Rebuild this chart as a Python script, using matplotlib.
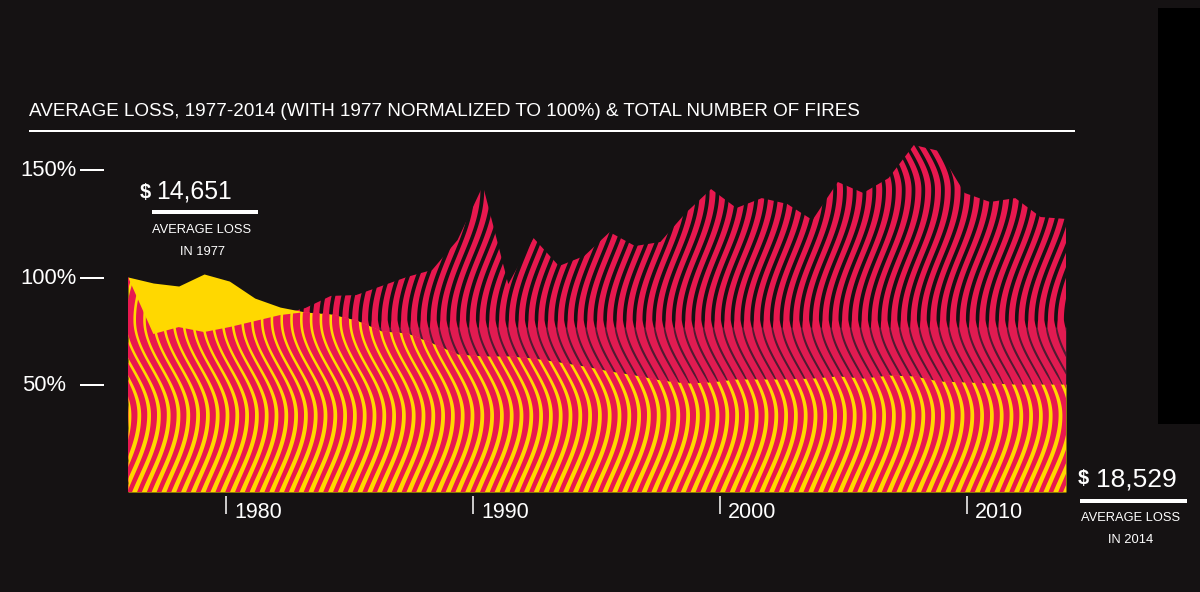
import numpy as np
import matplotlib
matplotlib.use("Agg")
import matplotlib.pyplot as plt
from matplotlib.collections import PolyCollection
from matplotlib.patches import Rectangle

# ---- data ----
years = np.arange(1977, 2015)
fires_pct = [100, 97.2, 95.8, 101.4, 98.1, 90.2, 86.0, 83.7, 82.8, 80.0, 74.9, 74.0, 69.3,
             64.2, 63.3, 63.3, 62.3, 60.5, 58.6, 56.3, 54.4, 52.1, 50.7, 51.2, 52.6, 52.6,
             52.6, 53.0, 54.0, 53.0, 54.4, 54.0, 51.6, 51.2, 50.7, 50.2, 50.2, 50.2]
loss_pct = [100, 73.5, 76.7, 74.4, 76.7, 79.5, 82.3, 85.6, 91.2, 91.6, 95.8, 100, 103.3,
            117.2, 142.5, 96.7, 118.1, 105.1, 109.8, 120.9, 114.4, 116.3, 129.8, 140.9,
            132.1, 136.7, 134.0, 126.5, 144.2, 139.1, 146.0, 161.4, 158.6, 139.1, 134.9,
            136.7, 127.9, 127.0]
y_ticks = [150, 100, 50]
y_tick_labels = ["150%", "100%", "50%"]
x_tick_labels = ["1980", "1990", "2000", "2010"]
title = "AVERAGE LOSS, 1977-2014 (WITH 1977 NORMALIZED TO 100%) & TOTAL NUMBER OF FIRES"

# ---- style ----
BG, RED, YELLOW = "#151213", "#e8184f", "#ffd800"
BAND = "#3c182a"
FONT = "Liberation Sans"
W, H = 1200, 592
L, R, Y0, PX_PER_PCT = 128, 1066, 492, 2.15
PX_PER_YEAR = (R - L) / (years[-1] - years[0])
YMAX = 172

plt.rcParams["font.family"] = FONT
fig = plt.figure(figsize=(W / 100, H / 100), dpi=100, facecolor=BG)
top_px = Y0 - YMAX * PX_PER_PCT
ax = fig.add_axes([L / W, 1 - Y0 / H, (R - L) / W, (Y0 - top_px) / H])
ax.set_xlim(years[0], years[-1])
ax.set_ylim(0, YMAX)
ax.axis("off")

fires = np.array(fires_pct, float)
loss = np.array(loss_pct, float)
under = np.minimum(fires, loss)


def stripes(gap_y_pct, gap_px, clip_path, zorder):
    """Wavy ribbon texture (decoration only), clipped to a data area."""
    y = np.linspace(-2, YMAX, 500)
    phase = np.interp(y, [-20, 35.8, 80, 140.5, 182], np.pi * np.array([-1, 0, 1, 2, 3]))
    off = 17 * np.cos(phase)
    gap = np.interp(y, gap_y_pct, gap_px)
    period = 9.8
    half = (period - gap) / 2
    polys = []
    for x0 in np.arange(L - 40, R + 40, period):
        xl = years[0] + (x0 + off - half - L) / PX_PER_YEAR
        xr = years[0] + (x0 + off + half - L) / PX_PER_YEAR
        polys.append(np.vstack([np.c_[xl, y], np.c_[xr, y][::-1]]))
    pc = PolyCollection(polys, facecolors=RED, edgecolors="none", zorder=zorder)
    ax.add_collection(pc)
    pc.set_clip_path(clip_path, ax.transData)


def area_path(values):
    art = ax.fill_between(years, 0, values, color="none", lw=0)
    return art.get_paths()[0]


# upper layer: red ribbons with dark gaps up to the loss line
BAND_TOP = 76.7
band_low = np.minimum(fires, BAND_TOP)
ax.fill_between(years, band_low, BAND_TOP, where=fires < BAND_TOP + 0.01,
                color=BAND, lw=0, zorder=1, interpolate=True)
stripes([0, 51, 55, 65, 74, 76.5, 80, 100, 172],
        [1.0, 1.2, 2.2, 2.4, 2.0, 1.6, 3.6, 4.0, 3.6], area_path(loss), 2)
ax.fill_between(years, band_low, BAND_TOP, where=fires < BAND_TOP + 0.01,
                color="#c0305f", alpha=0.16, lw=0, zorder=2.5, interpolate=True)

# yellow fires area, with red ribbons on it up to the lower of the two lines
ax.fill_between(years, 0, fires, color=YELLOW, lw=0, zorder=3)
stripes([0, 30, 50, 70, 100], [5.0, 4.0, 3.2, 2.6, 2.6], area_path(under), 4)

# ---- overlay in pixel coordinates: rules, labels, side block ----
ov = fig.add_axes([0, 0, 1, 1], zorder=5)
ov.set_xlim(0, W)
ov.set_ylim(H, 0)
ov.axis("off")
ov.patch.set_alpha(0)

ov.add_patch(Rectangle((1158, 8), 42, 416, color="black", lw=0))


def rule(x0, x1, y, h):
    ov.add_patch(Rectangle((x0, y - h / 2), x1 - x0, h, color="white", lw=0))


def txt(x, y, s, size, ha="left", **kw):
    ov.text(x, y + 1, s, color="white", fontsize=size, ha=ha, va="center", **kw)


txt(29, 110, title, 13.57)
rule(29, 1075, 131, 2.6)

for v, lab, xt in zip(y_ticks, y_tick_labels, [20, 20, 22]):
    y = Y0 - v * PX_PER_PCT
    txt(xt, y, lab, 15.8)
    rule(80, 104, round(y + 0.5), 2)

for px, lab in zip([226, 473, 720, 967], x_tick_labels):
    ov.plot([px, px], [496, 514], color="white", lw=1.1, solid_capstyle="butt")
    txt(px + 8, 512, lab, 15.5)

txt(140, 191, "$", 14.5, fontweight="bold")
txt(156, 191, "14,651", 17.8)
rule(152, 258, 212, 4)
txt(202, 229, "AVERAGE LOSS", 9.3, ha="center")
txt(202, 251, "IN 1977", 9.3, ha="center")

txt(1078, 478, "$", 14.5, fontweight="bold")
txt(1096, 478, "18,529", 19)
rule(1080, 1187, 500.5, 4)
txt(1131, 517, "AVERAGE LOSS", 9.3, ha="center")
txt(1131, 539, "IN 2014", 9.3, ha="center")

fig.savefig("out.png", dpi=100, facecolor=BG)
